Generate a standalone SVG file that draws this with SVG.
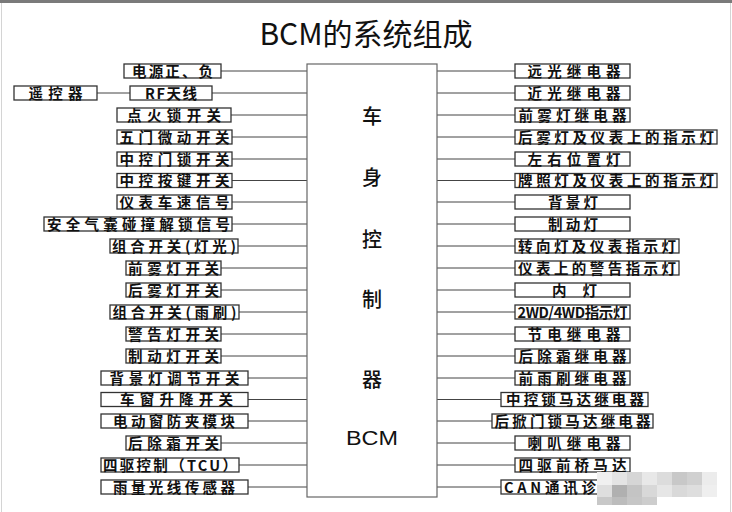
<svg xmlns="http://www.w3.org/2000/svg" width="732" height="512" viewBox="0 0 732 512">
<style>
.nb{fill:#fff;stroke:#333;stroke-width:1.3}
.nt{font-family:"Noto Sans CJK SC","Liberation Sans",sans-serif;font-size:14.5px;font-weight:bold;fill:#111;text-anchor:middle}
.ln{stroke:#444;stroke-width:1;fill:none}
.ct{font-family:"Noto Sans CJK SC","Liberation Sans",sans-serif;font-size:20px;font-weight:500;fill:#111;text-anchor:middle}
</style>
<rect x="0" y="0" width="732" height="512" fill="#fff"/>
<rect x="0" y="0" width="732" height="3" fill="#7a7a7a"/>
<line x1="1.5" y1="3" x2="1.5" y2="512" stroke="#d4d4d4"/>
<line x1="730.5" y1="3" x2="730.5" y2="512" stroke="#d4d4d4"/>
<text x="366" y="45" style="font-family:'Noto Sans CJK SC','Liberation Sans',sans-serif;font-size:30px;fill:#111;text-anchor:middle">BCM的系统组成</text>

<g id="connectors">
<line class="ln" x1="221" y1="71" x2="307" y2="71"/>
<line class="ln" x1="97" y1="93" x2="130" y2="93"/>
<line class="ln" x1="212" y1="93" x2="307" y2="93"/>
<line class="ln" x1="231" y1="115" x2="307" y2="115"/>
<line class="ln" x1="232" y1="137" x2="307" y2="137"/>
<line class="ln" x1="232" y1="159" x2="307" y2="159"/>
<line class="ln" x1="232" y1="180.5" x2="307" y2="180.5"/>
<line class="ln" x1="232" y1="202" x2="307" y2="202"/>
<line class="ln" x1="232" y1="224" x2="307" y2="224"/>
<line class="ln" x1="238" y1="246" x2="307" y2="246"/>
<line class="ln" x1="221" y1="268" x2="307" y2="268"/>
<line class="ln" x1="221" y1="290" x2="307" y2="290"/>
<line class="ln" x1="239" y1="312" x2="307" y2="312"/>
<line class="ln" x1="221" y1="334" x2="307" y2="334"/>
<line class="ln" x1="221" y1="356" x2="307" y2="356"/>
<line class="ln" x1="248" y1="378" x2="307" y2="378"/>
<line class="ln" x1="248" y1="399.5" x2="307" y2="399.5"/>
<line class="ln" x1="248" y1="421" x2="307" y2="421"/>
<line class="ln" x1="221" y1="443" x2="307" y2="443"/>
<line class="ln" x1="239" y1="465" x2="307" y2="465"/>
<line class="ln" x1="248" y1="487" x2="307" y2="487"/>

<line class="ln" x1="437" y1="71" x2="515" y2="71"/>
<line class="ln" x1="437" y1="93" x2="515" y2="93"/>
<line class="ln" x1="437" y1="115" x2="515" y2="115"/>
<line class="ln" x1="437" y1="137" x2="515" y2="137"/>
<line class="ln" x1="437" y1="159" x2="515" y2="159"/>
<line class="ln" x1="437" y1="180.5" x2="515" y2="180.5"/>
<line class="ln" x1="437" y1="202" x2="515" y2="202"/>
<line class="ln" x1="437" y1="224" x2="515" y2="224"/>
<line class="ln" x1="437" y1="246" x2="515" y2="246"/>
<line class="ln" x1="437" y1="268" x2="515" y2="268"/>
<line class="ln" x1="437" y1="290" x2="515" y2="290"/>
<line class="ln" x1="437" y1="312" x2="515" y2="312"/>
<line class="ln" x1="437" y1="334" x2="515" y2="334"/>
<line class="ln" x1="437" y1="356" x2="515" y2="356"/>
<line class="ln" x1="437" y1="378" x2="515" y2="378"/>
<line class="ln" x1="437" y1="399.5" x2="501" y2="399.5"/>
<line class="ln" x1="437" y1="421" x2="492" y2="421"/>
<line class="ln" x1="437" y1="443" x2="515" y2="443"/>
<line class="ln" x1="437" y1="465" x2="515" y2="465"/>
<line class="ln" x1="437" y1="487" x2="501" y2="487"/>
</g>

<g id="bcm">
<rect x="307" y="64" width="130" height="433" fill="#fff" stroke="#666" stroke-width="1.2"/>
<text class="ct" x="372" y="124">车</text>
<text class="ct" x="372" y="185">身</text>
<text class="ct" x="372" y="247">控</text>
<text class="ct" x="372" y="307">制</text>
<text class="ct" x="372" y="387">器</text>
<text x="372" y="445" textLength="52" lengthAdjust="spacingAndGlyphs" style="font-family:'Liberation Sans',Arial,sans-serif;font-size:20px;fill:#111;text-anchor:middle">BCM</text>
</g>

<g id="remote"><rect class="nb" x="14" y="86" width="83" height="14"/><text class="nt" x="55.5" y="98.5" textLength="54">遥控器</text></g>
<g id="L0"><rect class="nb" x="124" y="64" width="97" height="14"/><text class="nt" x="172.5" y="76.5" textLength="81">电源正、负</text></g>
<g id="L1"><rect class="nb" x="130" y="86" width="82" height="14"/><text class="nt" x="171" y="98.5" textLength="52">RF天线</text></g>
<g id="L2"><rect class="nb" x="117" y="108" width="114" height="14"/><text class="nt" x="174" y="120.5" textLength="94">点火锁开关</text></g>
<g id="L3"><rect class="nb" x="117" y="130" width="115" height="14"/><text class="nt" x="174.5" y="142.5" textLength="110">五门微动开关</text></g>
<g id="L4"><rect class="nb" x="117" y="152" width="115" height="14"/><text class="nt" x="174.5" y="164.5" textLength="110">中控门锁开关</text></g>
<g id="L5"><rect class="nb" x="117" y="173.5" width="115" height="14"/><text class="nt" x="174.5" y="186" textLength="110">中控按键开关</text></g>
<g id="L6"><rect class="nb" x="117" y="195" width="115" height="14"/><text class="nt" x="174.5" y="207.5" textLength="110">仪表车速信号</text></g>
<g id="L7"><rect class="nb" x="44" y="217" width="188" height="14"/><text class="nt" x="138.5" y="229.5" textLength="183">安全气囊碰撞解锁信号</text></g>
<g id="L8"><rect class="nb" x="110" y="239" width="128" height="14"/><text class="nt" x="174" y="251.5" textLength="124">组合开关(灯光)</text></g>
<g id="L9"><rect class="nb" x="126" y="261" width="95" height="14"/><text class="nt" x="173.5" y="273.5" textLength="91">前雾灯开关</text></g>
<g id="L10"><rect class="nb" x="126" y="283" width="95" height="14"/><text class="nt" x="173.5" y="295.5" textLength="91">后雾灯开关</text></g>
<g id="L11"><rect class="nb" x="110" y="305" width="129" height="14"/><text class="nt" x="174.5" y="317.5" textLength="124">组合开关(雨刷)</text></g>
<g id="L12"><rect class="nb" x="126" y="327" width="95" height="14"/><text class="nt" x="173.5" y="339.5" textLength="91">警告灯开关</text></g>
<g id="L13"><rect class="nb" x="126" y="349" width="95" height="14"/><text class="nt" x="173.5" y="361.5" textLength="91">制动灯开关</text></g>
<g id="L14"><rect class="nb" x="101" y="371" width="147" height="14"/><text class="nt" x="174.5" y="383.5" textLength="130">背景灯调节开关</text></g>
<g id="L15"><rect class="nb" x="101" y="392.5" width="147" height="14"/><text class="nt" x="176.5" y="405" textLength="113">车窗升降开关</text></g>
<g id="L16"><rect class="nb" x="101" y="414" width="147" height="14"/><text class="nt" x="174" y="426.5" textLength="122">电动窗防夹模块</text></g>
<g id="L17"><rect class="nb" x="126" y="436" width="95" height="14"/><text class="nt" x="173.5" y="448.5" textLength="91">后除霜开关</text></g>
<g id="L18"><rect class="nb" x="101" y="458" width="138" height="14"/><text class="nt" x="170" y="470.5" textLength="134">四驱控制（TCU）</text></g>
<g id="L19"><rect class="nb" x="101" y="480" width="147" height="14"/><text class="nt" x="174" y="492.5" textLength="122">雨量光线传感器</text></g>

<g id="R0"><rect class="nb" x="515" y="64" width="115" height="14"/><text class="nt" x="574" y="76.5" textLength="93">远光继电器</text></g>
<g id="R1"><rect class="nb" x="515" y="86" width="115" height="14"/><text class="nt" x="574" y="98.5" textLength="93">近光继电器</text></g>
<g id="R2"><rect class="nb" x="515" y="108" width="115" height="14"/><text class="nt" x="572.5" y="120.5" textLength="108">前雾灯继电器</text></g>
<g id="R3"><rect class="nb" x="515" y="130" width="202" height="14"/><text class="nt" x="616" y="142.5" textLength="196">后雾灯及仪表上的指示灯</text></g>
<g id="R4"><rect class="nb" x="515" y="152" width="115" height="14"/><text class="nt" x="574" y="164.5" textLength="93">左右位置灯</text></g>
<g id="R5"><rect class="nb" x="515" y="173.5" width="202" height="14"/><text class="nt" x="616" y="186" textLength="196">牌照灯及仪表上的指示灯</text></g>
<g id="R6"><rect class="nb" x="515" y="195" width="115" height="14"/><text class="nt" x="573" y="207.5" textLength="50">背景灯</text></g>
<g id="R7"><rect class="nb" x="515" y="217" width="115" height="14"/><text class="nt" x="573" y="229.5" textLength="50">制动灯</text></g>
<g id="R8"><rect class="nb" x="515" y="239" width="164" height="14"/><text class="nt" x="597" y="251.5" textLength="158">转向灯及仪表指示灯</text></g>
<g id="R9"><rect class="nb" x="515" y="261" width="164" height="14"/><text class="nt" x="597" y="273.5" textLength="158">仪表上的警告指示灯</text></g>
<g id="R10"><rect class="nb" x="515" y="283" width="115" height="14"/><text class="nt" x="574.5" y="295.5" textLength="45">内 灯</text></g>
<g id="R11"><rect class="nb" x="515" y="305" width="115" height="14"/><text class="nt" x="572.5" y="317.5" textLength="110">2WD/4WD指示灯</text></g>
<g id="R12"><rect class="nb" x="515" y="327" width="115" height="14"/><text class="nt" x="574" y="339.5" textLength="93">节电继电器</text></g>
<g id="R13"><rect class="nb" x="515" y="349" width="115" height="14"/><text class="nt" x="572.5" y="361.5" textLength="108">后除霜继电器</text></g>
<g id="R14"><rect class="nb" x="515" y="371" width="115" height="14"/><text class="nt" x="572.5" y="383.5" textLength="108">前雨刷继电器</text></g>
<g id="R15"><rect class="nb" x="501" y="392.5" width="147" height="14"/><text class="nt" x="575" y="405" textLength="138">中控锁马达继电器</text></g>
<g id="R16"><rect class="nb" x="492" y="414" width="161" height="14"/><text class="nt" x="572.5" y="426.5" textLength="156">后掀门锁马达继电器</text></g>
<g id="R17"><rect class="nb" x="515" y="436" width="115" height="14"/><text class="nt" x="574" y="448.5" textLength="93">喇叭继电器</text></g>
<g id="R18"><rect class="nb" x="515" y="458" width="115" height="14"/><text class="nt" x="572.5" y="470.5" textLength="108">四驱前桥马达</text></g>
<g id="R19"><rect class="nb" x="501" y="480" width="205" height="14"/><text class="nt" x="504" y="492.5" textLength="92" style="text-anchor:start">CAN通讯诊</text></g>

<g id="mosaic">
<rect x="597" y="472" width="15" height="13" fill="#f0f0f0"/>
<rect x="612" y="472" width="15" height="13" fill="#e4e4e4"/>
<rect x="627" y="472" width="15" height="13" fill="#d6d6d6"/>
<rect x="642" y="472" width="15" height="13" fill="#e8e8e8"/>
<rect x="657" y="472" width="15" height="13" fill="#dcdcdc"/>
<rect x="672" y="472" width="15" height="13" fill="#c8c8c8"/>
<rect x="687" y="472" width="15" height="13" fill="#d0d0d0"/>
<rect x="702" y="472" width="15" height="13" fill="#ececec"/>
<rect x="597" y="485" width="15" height="12" fill="#dedede"/>
<rect x="612" y="485" width="15" height="12" fill="#b0b0b0"/>
<rect x="627" y="485" width="15" height="12" fill="#c4c4c4"/>
<rect x="642" y="485" width="15" height="12" fill="#d8d8d8"/>
<rect x="657" y="485" width="15" height="12" fill="#e6e6e6"/>
<rect x="672" y="485" width="15" height="12" fill="#d9d9d9"/>
<rect x="687" y="485" width="15" height="12" fill="#dedede"/>
<rect x="702" y="485" width="15" height="12" fill="#efefef"/>
<rect x="597" y="497" width="15" height="8" fill="#c8c8c8"/>
<rect x="612" y="497" width="15" height="8" fill="#bcbcbc"/>
<rect x="627" y="497" width="15" height="8" fill="#c6c6c6"/>
<rect x="642" y="497" width="15" height="8" fill="#cdcdcd"/>
</g>
</svg>
